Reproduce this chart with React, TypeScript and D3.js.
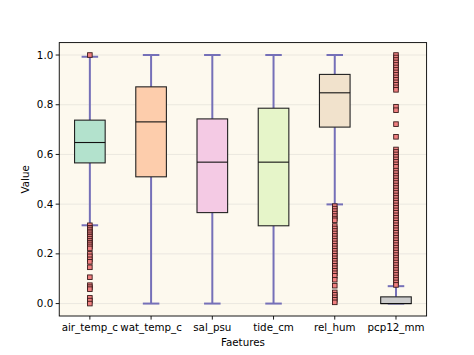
import React from "react";
import * as d3 from "d3";

const features = ["air_temp_c", "wat_temp_c", "sal_psu", "tide_cm", "rel_hum", "pcp12_mm"];
const q1 = [0.566, 0.51, 0.366, 0.313, 0.71, 0.0];
const medians = [0.648, 0.731, 0.569, 0.569, 0.848, 0.0];
const q3 = [0.738, 0.872, 0.743, 0.786, 0.922, 0.027];
const whiskerLow = [0.315, 0.0, 0.0, 0.0, 0.399, 0.0];
const whiskerHigh = [0.993, 1.0, 1.0, 1.0, 1.0, 0.07];
const boxColors = ["#b3e2cd", "#fdcdac", "#f4cae4", "#e6f5c9", "#f1e2cc", "#cccccc"];

const outliersAir = [1.0, 0.315, 0.305, 0.298, 0.29, 0.283, 0.275, 0.268, 0.26, 0.252, 0.245, 0.238, 0.23, 0.222, 0.2, 0.19, 0.178, 0.168, 0.146, 0.106, 0.074, 0.066, 0.058, 0.023, 0.012, 0.0];
const outliersHum = [0.392, 0.382, 0.372, 0.362, 0.352, 0.342, 0.335, 0.312, 0.302, 0.292, 0.282, 0.272, 0.262, 0.252, 0.242, 0.232, 0.222, 0.212, 0.202, 0.192, 0.182, 0.172, 0.162, 0.152, 0.142, 0.132, 0.122, 0.112, 0.096, 0.072, 0.045, 0.035, 0.025, 0.015, 0.005];
const outliersPcp = [1.0, 0.99, 0.98, 0.97, 0.96, 0.95, 0.94, 0.93, 0.92, 0.91, 0.9, 0.89, 0.88, 0.87, 0.86, 0.792, 0.778, 0.722, 0.671, 0.62, 0.61, 0.6, 0.59, 0.58, 0.57, 0.56, 0.55, 0.535, 0.525, 0.515, 0.505, 0.495, 0.485, 0.475, 0.465, 0.455, 0.445, 0.435, 0.425, 0.415, 0.405, 0.395, 0.385, 0.375, 0.365, 0.355, 0.345, 0.335, 0.325, 0.315, 0.305, 0.295, 0.285, 0.275, 0.265, 0.255, 0.245, 0.235, 0.225, 0.215, 0.205, 0.195, 0.185, 0.175, 0.165, 0.155, 0.145, 0.135, 0.125, 0.115, 0.105, 0.095, 0.085, 0.075];
const outliers = [outliersAir, [], [], [], outliersHum, outliersPcp];
const yTicks = [0.0, 0.2, 0.4, 0.6, 0.8, 1.0];

const W = 474, H = 355;
const L = 59.25, R = 426.6, T = 42.6, B = 316;

export default function App() {
  const x = d3.scaleLinear().domain([0.5, 6.5]).range([L, R]);
  const y = d3.scaleLinear().domain([-0.05, 1.05]).range([B, T]);
  const bw = x(1.25) - x(1);
  const cw = x(1.135) - x(1);
  const font = "DejaVu Sans, sans-serif";
  const whisk = "#7570b8";
  return (
    <svg width={W} height={H} style={{ position: "absolute", left: 0, top: 0 }} fontFamily={font}>
      <rect x={0} y={0} width={W} height={H} fill="#ffffff" />
      <rect x={L} y={T} width={R - L} height={B - T} fill="#fdf9ee" />
      {yTicks.map((t) => (
        <line key={"g" + t} x1={L} x2={R} y1={y(t)} y2={y(t)} stroke="#e6e3dc" strokeWidth={0.8} />
      ))}
      {features.map((f, i) => {
        const cx = x(i + 1);
        return (
          <g key={f}>
            <line x1={cx} x2={cx} y1={y(q1[i])} y2={y(whiskerLow[i])} stroke={whisk} strokeWidth={2} />
            <line x1={cx} x2={cx} y1={y(q3[i])} y2={y(whiskerHigh[i])} stroke={whisk} strokeWidth={2} />
            <line x1={cx - cw} x2={cx + cw} y1={y(whiskerLow[i])} y2={y(whiskerLow[i])} stroke={whisk} strokeWidth={2} />
            <line x1={cx - cw} x2={cx + cw} y1={y(whiskerHigh[i])} y2={y(whiskerHigh[i])} stroke={whisk} strokeWidth={2} />
            <rect x={cx - bw} y={y(q3[i])} width={2 * bw} height={y(q1[i]) - y(q3[i])} fill={boxColors[i]} stroke="#222" strokeWidth={1.1} />
            <line x1={cx - bw} x2={cx + bw} y1={y(medians[i])} y2={y(medians[i])} stroke="#111" strokeWidth={1.1} />
            {outliers[i].map((v, k) => (
              <rect key={k} x={cx - 2.3} y={y(v) - 2.3} width={4.6} height={4.6} fill="#f08080" stroke="#3a1a1a" strokeWidth={0.9} />
            ))}
          </g>
        );
      })}
      <rect x={L} y={T} width={R - L} height={B - T} fill="none" stroke="#000" strokeWidth={0.9} />
      {yTicks.map((t) => (
        <g key={"t" + t}>
          <line x1={L - 3.6} x2={L} y1={y(t)} y2={y(t)} stroke="#000" strokeWidth={0.9} />
          <text x={L - 6} y={y(t)} dy="0.35em" textAnchor="end" fontSize={10.3} fill="#000">{t.toFixed(1)}</text>
        </g>
      ))}
      {features.map((f, i) => (
        <g key={"x" + f}>
          <line x1={x(i + 1)} x2={x(i + 1)} y1={B} y2={B + 3.6} stroke="#000" strokeWidth={0.9} />
          <text x={x(i + 1)} y={B + 14.5} textAnchor="middle" fontSize={10.3} fill="#000">{f}</text>
        </g>
      ))}
      <text x={(L + R) / 2} y={346} textAnchor="middle" fontSize={10.3} fill="#000">Faetures</text>
      <text transform={`translate(28.5,${(T + B) / 2}) rotate(-90)`} textAnchor="middle" fontSize={10.3} fill="#000">Value</text>
    </svg>
  );
}
